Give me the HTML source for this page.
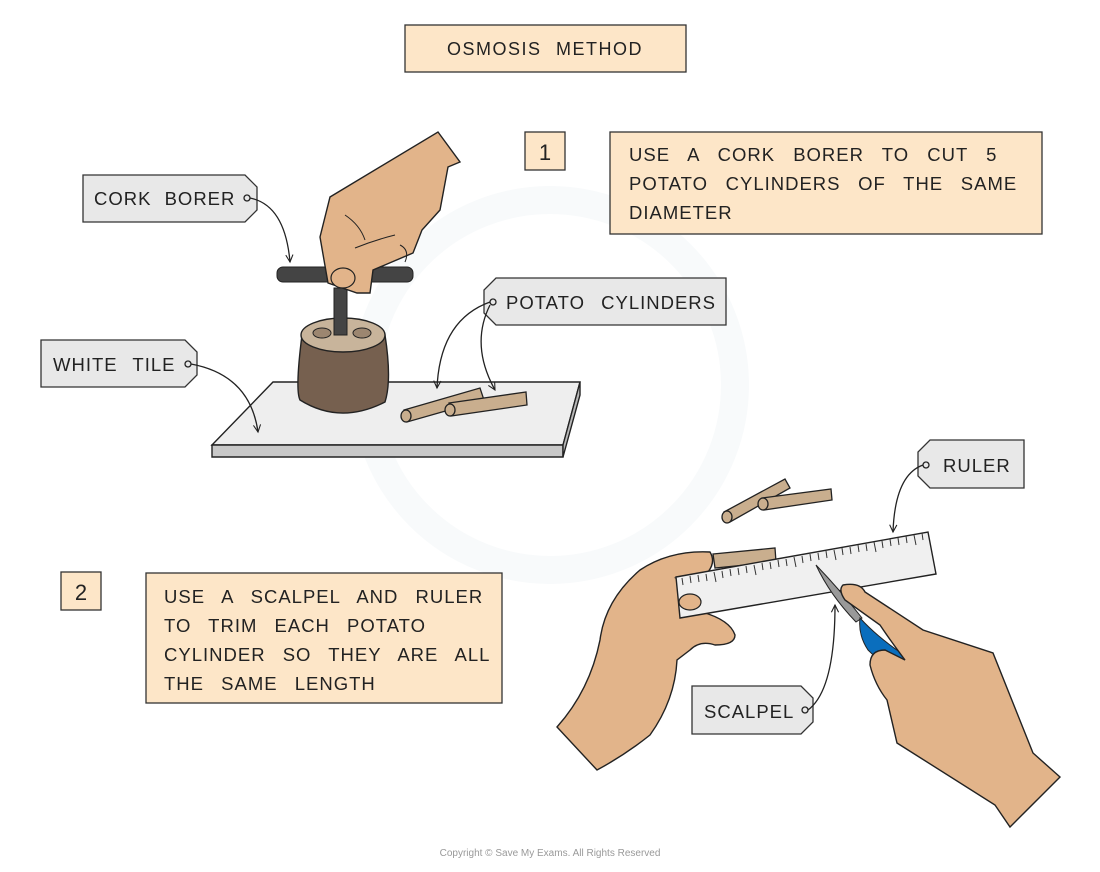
<!DOCTYPE html>
<html><head><meta charset="utf-8"><style>
html,body{margin:0;padding:0;background:#fff;}
svg{display:block;}
text{font-family:"Liberation Sans",sans-serif;fill:#222;}
</style></head><body>
<svg width="1100" height="872" viewBox="0 0 1100 872" xmlns="http://www.w3.org/2000/svg">
<defs><marker id="ah" viewBox="0 0 10 10" refX="9" refY="5" markerWidth="11" markerHeight="9" orient="auto" markerUnits="userSpaceOnUse"><path d="M1,1 L9,5 L1,9" fill="none" stroke="#222" stroke-width="1.2"/></marker></defs>
<!-- watermark -->
<circle cx="550" cy="385" r="185" fill="none" stroke="#f8fafb" stroke-width="28"/>
<!-- title -->
<rect x="405" y="25" width="281" height="47" fill="#fde6c8" stroke="#333" stroke-width="1.3"/>
<text x="545" y="55" font-size="18" text-anchor="middle" letter-spacing="1.5" word-spacing="8">OSMOSIS METHOD</text>
<!-- 1 -->
<rect x="525" y="132" width="40" height="38" fill="#fde6c8" stroke="#333" stroke-width="1.3"/>
<text x="545" y="160" font-size="22" text-anchor="middle">1</text>
<rect x="610" y="132" width="432" height="102" fill="#fde6c8" stroke="#333" stroke-width="1.3"/>
<text font-size="18.5" letter-spacing="1"><tspan x="629" y="161" word-spacing="12">USE A CORK BORER TO CUT 5</tspan><tspan x="629" y="190" word-spacing="11.5">POTATO CYLINDERS OF THE SAME</tspan><tspan x="629" y="219">DIAMETER</tspan></text>
<!-- 2 -->
<rect x="61" y="572" width="40" height="38" fill="#fde6c8" stroke="#333" stroke-width="1.3"/>
<text x="81" y="600" font-size="22" text-anchor="middle">2</text>
<rect x="146" y="573" width="356" height="130" fill="#fde6c8" stroke="#333" stroke-width="1.3"/>
<text font-size="18.5" letter-spacing="1" word-spacing="11"><tspan x="164" y="603">USE A SCALPEL AND RULER</tspan><tspan x="164" y="632">TO TRIM EACH POTATO</tspan><tspan x="164" y="661">CYLINDER SO THEY ARE ALL</tspan><tspan x="164" y="690">THE SAME LENGTH</tspan></text>

<!-- tile -->
<polygon points="212,445 273,382 580,382 563,445" fill="#eeeeee" stroke="#222" stroke-width="1.4"/>
<polygon points="212,445 563,445 563,457 212,457" fill="#c8c8c8" stroke="#222" stroke-width="1.4"/>
<polygon points="563,445 580,382 580,395 563,457" fill="#b8b8b8" stroke="#222" stroke-width="1.4"/>
<!-- cork -->
<path d="M302,335 Q295,390 300,400 Q340,425 385,402 Q392,380 385,335 Z" fill="#76604f" stroke="#222" stroke-width="1.4"/>
<ellipse cx="343" cy="335" rx="42" ry="17" fill="#c8b49b" stroke="#222" stroke-width="1.4"/>
<ellipse cx="322" cy="333" rx="9" ry="5" fill="#9c8670" stroke="#222"/>
<ellipse cx="362" cy="333" rx="9" ry="5" fill="#9c8670" stroke="#222"/>
<rect x="334" y="288" width="13" height="47" fill="#444" stroke="#222"/>
<rect x="277" y="267" width="136" height="15" rx="6" fill="#444" stroke="#222"/>
<!-- hand top -->
<path d="M438,132 L460,162 L448,167 L440,210 L422,230 L413,253 L373,270 L370,293 L357,293 L328,283 L320,237 L330,197 Z" fill="#e2b48a" stroke="#222" stroke-width="1.4"/>
<ellipse cx="343" cy="278" rx="12" ry="10" fill="#e2b48a" stroke="#222" stroke-width="1.2"/>
<path d="M345,215 Q360,225 365,240 M355,248 Q375,240 395,235 M400,245 Q410,250 405,262" fill="none" stroke="#222" stroke-width="1"/>
<!-- potato cylinders -->
<g fill="#c9ae8e" stroke="#222" stroke-width="1.3">
<polygon points="404,410 480,388 484,400 407,422"/><ellipse cx="406" cy="416" rx="5" ry="6"/>
<polygon points="449,403 526,392 527,405 451,416"/><ellipse cx="450" cy="410" rx="5" ry="6"/>
<polygon points="724,512 785,479 790,488 730,522"/><ellipse cx="727" cy="517" rx="5" ry="6"/>
<polygon points="762,498 831,489 832,500 764,510"/><ellipse cx="763" cy="504" rx="5" ry="6"/>
<polygon points="713,554 775,548 776,562 715,568"/>
</g>
<!-- left hand -->
<path d="M557,727 Q590,690 600,640 Q605,600 640,570 Q670,550 710,552 Q716,562 708,572 L676,578 Q700,590 700,605 L702,612 Q730,620 735,635 Q735,645 715,645 Q700,640 690,650 L677,660 Q675,700 650,735 Q625,755 597,770 Z" fill="#e2b48a" stroke="#222" stroke-width="1.4"/>
<!-- ruler -->
<polygon points="676,577 928,532 936,574 680,618" fill="#f0f0f0" stroke="#222" stroke-width="1.4"/>
<g stroke="#333" stroke-width="1">
<path d="M682,578 l1,7 M690,576 l1,7 M698,575 l1,7 M706,574 l1,7 M714,572 l2,10 M722,571 l1,7 M730,569 l1,7 M738,568 l1,7 M746,566 l1,7 M754,565 l2,10 M762,563 l1,7 M770,562 l1,7 M778,560 l1,7 M786,559 l1,7 M794,557 l2,10 M802,556 l1,7 M810,554 l1,7 M818,553 l1,7 M826,551 l1,7 M834,550 l2,10 M842,548 l1,7 M850,547 l1,7 M858,545 l1,7 M866,544 l1,7 M874,542 l2,10 M882,541 l1,7 M890,539 l1,7 M898,538 l1,7 M906,536 l1,7 M914,535 l2,10 M922,533 l1,7"/>
</g>
<ellipse cx="690" cy="602" rx="11" ry="8" fill="#e2b48a" stroke="#222" stroke-width="1.2"/>
<!-- scalpel -->
<path d="M816,565 Q840,590 862,618 L856,622 Q830,595 816,565 Z" fill="#999" stroke="#222"/>
<path d="M860,618 Q880,640 912,660 Q930,690 930,717 Q910,690 868,650 Q858,635 860,618 Z" fill="#0a6ebd" stroke="#222"/>
<!-- right hand -->
<path d="M843,585 Q860,582 865,592 L923,630 L993,653 L1033,753 L1060,777 L1010,827 L995,805 L897,743 L887,700 Q875,685 870,665 Q870,650 885,650 L905,660 Q890,640 880,625 L845,600 Q838,590 843,585 Z" fill="#e2b48a" stroke="#222" stroke-width="1.4"/>
<!-- tags -->
<g fill="#e8e8e8" stroke="#333" stroke-width="1.3">
<polygon points="83,175 245,175 257,187 257,210 245,222 83,222"/>
<polygon points="41,340 185,340 197,352 197,375 185,387 41,387"/>
<polygon points="496,278 726,278 726,325 496,325 484,313 484,290"/>
<polygon points="930,440 1024,440 1024,488 930,488 918,476 918,452"/>
<polygon points="692,686 801,686 813,698 813,722 801,734 692,734"/>
</g>
<g font-size="18.5" letter-spacing="1">
<text x="94" y="205" word-spacing="7">CORK BORER</text>
<text x="53" y="371" word-spacing="9">WHITE TILE</text>
<text x="506" y="309" word-spacing="10">POTATO CYLINDERS</text>
<text x="943" y="472">RULER</text>
<text x="704" y="718">SCALPEL</text>
</g>
<!-- connectors -->
<g fill="none" stroke="#222" stroke-width="1.3">
<circle cx="247" cy="198" r="3"/><path d="M250,198 Q285,205 290,262" marker-end="url(#ah)"/>
<circle cx="188" cy="364" r="3"/><path d="M191,364 Q250,375 258,432" marker-end="url(#ah)"/>
<circle cx="493" cy="302" r="3"/><path d="M490,302 Q440,320 437,388" marker-end="url(#ah)"/>
<path d="M490,305 Q470,345 495,390" marker-end="url(#ah)"/>
<circle cx="926" cy="465" r="3"/><path d="M923,465 Q895,475 893,532" marker-end="url(#ah)"/>
<circle cx="805" cy="710" r="3"/><path d="M808,710 Q835,690 835,605" marker-end="url(#ah)"/>
</g>
<text x="550" y="856" font-size="10" text-anchor="middle" style="fill:#999">Copyright © Save My Exams. All Rights Reserved</text>
</svg>
</body></html>
